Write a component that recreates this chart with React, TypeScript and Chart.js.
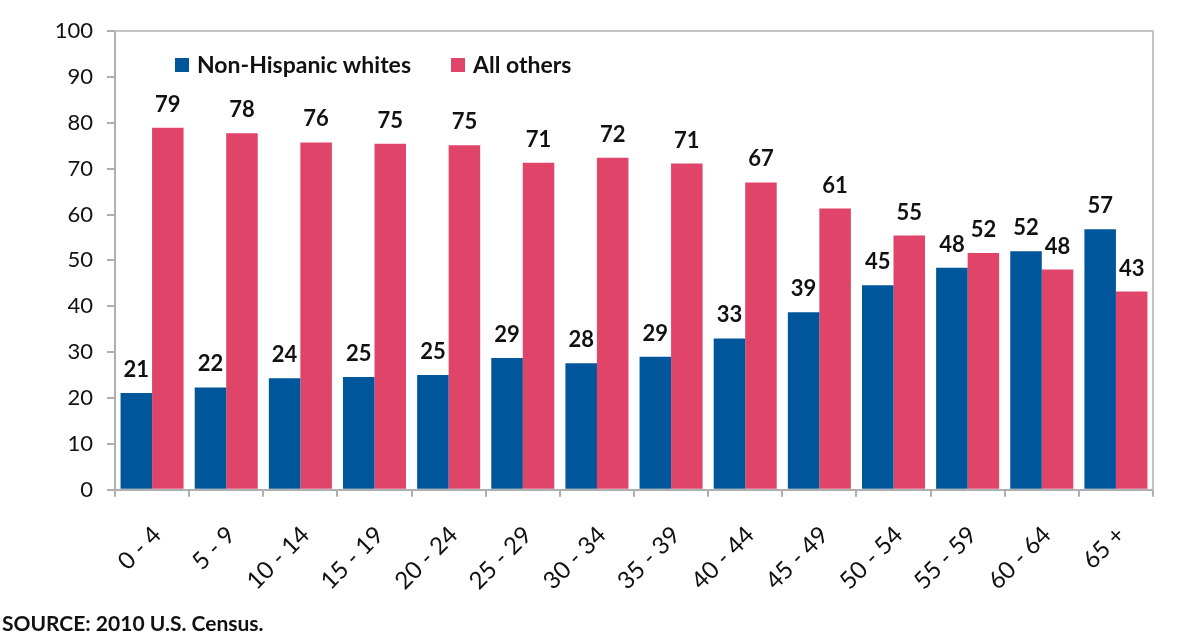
import React, { useEffect, useRef } from "react";
import { Chart, registerables } from "chart.js";

Chart.register(...registerables);

const categories = ["0 - 4", "5 - 9", "10 - 14", "15 - 19", "20 - 24", "25 - 29", "30 - 34", "35 - 39", "40 - 44", "45 - 49", "50 - 54", "55 - 59", "60 - 64", "65 +"];
const whites = [21.1, 22.3, 24.3, 24.6, 25.0, 28.7, 27.6, 29.0, 33.0, 38.7, 44.6, 48.4, 52.0, 56.8];
const others = [78.9, 77.7, 75.7, 75.4, 75.1, 71.3, 72.4, 71.1, 67.0, 61.3, 55.4, 51.6, 48.0, 43.2];
const seriesNames = ["Non-Hispanic whites", "All others"];
const seriesColors = ["#00569A", "#E04468"];
const yTicks = [0, 10, 20, 30, 40, 50, 60, 70, 80, 90, 100];
const sourceText = "SOURCE: 2010 U.S. Census.";

const FONT = "Lato, 'Open Sans', sans-serif";
const AXIS_COLOR = "#AFAFAF";

const overlayPlugin = {
  id: "overlay",
  afterDatasetsDraw(chart: any) {
    const ctx = chart.ctx;
    const area = chart.chartArea;
    ctx.save();
    // plot border top/right
    ctx.strokeStyle = "#C4C4C4";
    ctx.lineWidth = 2;
    ctx.beginPath();
    ctx.moveTo(area.left, area.top);
    ctx.lineTo(area.right, area.top);
    ctx.lineTo(area.right, area.bottom);
    ctx.stroke();
    // value labels
    ctx.fillStyle = "#111";
    ctx.font = `bold 22px ${FONT}`;
    ctx.textAlign = "center";
    ctx.textBaseline = "alphabetic";
    chart.data.datasets.forEach((ds: any, i: number) => {
      const meta = chart.getDatasetMeta(i);
      meta.data.forEach((bar: any, j: number) => {
        ctx.fillText(String(Math.round(ds.data[j])), bar.x, bar.y - 16);
      });
    });
    // legend inside plot
    ctx.font = `bold 23px ${FONT}`;
    ctx.textAlign = "left";
    ctx.textBaseline = "middle";
    let x = area.left + 60;
    const y = area.top + 34;
    chart.data.datasets.forEach((ds: any) => {
      ctx.fillStyle = ds.backgroundColor;
      ctx.fillRect(x, y - 7, 14, 14);
      ctx.fillStyle = "#111";
      ctx.fillText(ds.label, x + 22, y + 1);
      x += 22 + ctx.measureText(ds.label).width + 40;
    });
    ctx.restore();
  },
};

export default function App() {
  const ref = useRef<HTMLCanvasElement>(null);
  useEffect(() => {
    document.body.style.margin = "0";
    const chart = new Chart(ref.current!, {
      type: "bar",
      data: {
        labels: categories,
        datasets: [
          { label: seriesNames[0], data: whites, backgroundColor: seriesColors[0] },
          { label: seriesNames[1], data: others, backgroundColor: seriesColors[1] },
        ],
      },
      options: {
        animation: false,
        responsive: false,
        devicePixelRatio: 1,
        layout: { padding: { top: 31, right: 47, left: 2, bottom: 0 } },
        datasets: { bar: { categoryPercentage: 0.85, barPercentage: 1 } },
        plugins: {
          legend: { display: false },
          tooltip: { enabled: false },
          title: {
            display: true,
            text: sourceText,
            position: "bottom",
            align: "start",
            color: "#111",
            font: { family: FONT, size: 21, weight: "bold" },
            padding: { top: 0, bottom: 1 },
          },
        },
        scales: {
          x: {
            afterFit: (axis: any) => { axis.height = 122; },
            grid: { display: true, drawOnChartArea: false, offset: true, drawTicks: true, tickLength: 7, color: AXIS_COLOR, lineWidth: 2 },
            border: { display: true, color: AXIS_COLOR, width: 2 },
            ticks: { color: "#111", font: { family: FONT, size: 24 }, maxRotation: 45, minRotation: 45, padding: 24, labelOffset: 5 },
          },
          y: {
            min: 0,
            max: 100,
            afterFit: (axis: any) => { axis.width = 113; },
            afterBuildTicks: (axis: any) => { axis.ticks = yTicks.map((v) => ({ value: v })); },
            grid: { display: true, drawOnChartArea: false, drawTicks: true, tickLength: 8, color: AXIS_COLOR, lineWidth: 2 },
            border: { display: true, color: AXIS_COLOR, width: 2 },
            ticks: { color: "#111", font: { family: FONT, size: 22 }, padding: 14 },
          },
        },
      },
      plugins: [overlayPlugin],
    });
    return () => chart.destroy();
  }, []);
  return <canvas ref={ref} width={1200} height={638} style={{ display: "block" }} />;
}
